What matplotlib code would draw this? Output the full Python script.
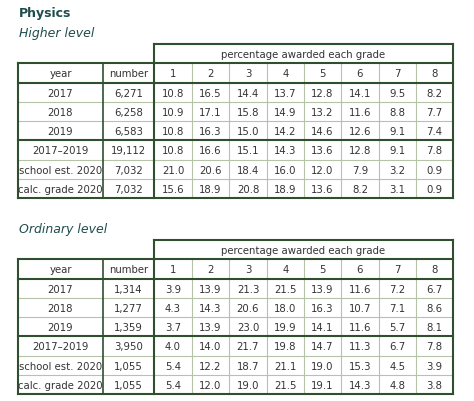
import matplotlib.pyplot as plt

row_labels = ["2017", "2018", "2019", "2017\u20132019", "school est. 2020", "calc. grade 2020"]
grades = ["1", "2", "3", "4", "5", "6", "7", "8"]

higher_numbers = ["6,271", "6,258", "6,583", "19,112", "7,032", "7,032"]
higher_pct = [
    [10.8, 16.5, 14.4, 13.7, 12.8, 14.1, 9.5, 8.2],
    [10.9, 17.1, 15.8, 14.9, 13.2, 11.6, 8.8, 7.7],
    [10.8, 16.3, 15.0, 14.2, 14.6, 12.6, 9.1, 7.4],
    [10.8, 16.6, 15.1, 14.3, 13.6, 12.8, 9.1, 7.8],
    [21.0, 20.6, 18.4, 16.0, 12.0, 7.9, 3.2, 0.9],
    [15.6, 18.9, 20.8, 18.9, 13.6, 8.2, 3.1, 0.9],
]

ordinary_numbers = ["1,314", "1,277", "1,359", "3,950", "1,055", "1,055"]
ordinary_pct = [
    [3.9, 13.9, 21.3, 21.5, 13.9, 11.6, 7.2, 6.7],
    [4.3, 14.3, 20.6, 18.0, 16.3, 10.7, 7.1, 8.6],
    [3.7, 13.9, 23.0, 19.9, 14.1, 11.6, 5.7, 8.1],
    [4.0, 14.0, 21.7, 19.8, 14.7, 11.3, 6.7, 7.8],
    [5.4, 12.2, 18.7, 21.1, 19.0, 15.3, 4.5, 3.9],
    [5.4, 12.0, 19.0, 21.5, 19.1, 14.3, 4.8, 3.8],
]

DARK = "#2f4f2f"
THIN = "#b5c4a8"
TEXT = "#333333"
TITLE = "#1f4d4d"

col_x = [18, 103, 154, 192, 229, 267, 304, 341, 379, 416, 453]

fig = plt.figure(figsize=(4.74, 4.02), dpi=100)
ax = fig.add_axes([0, 0, 1, 1])
ax.set_xlim(0, 474)
ax.set_ylim(402, 0)
ax.axis("off")


def draw_table(top, rh, numbers, pct):
    ys = [top + rh * i for i in range(9)]
    x0, x1 = col_x[0], col_x[-1]
    # thin inner lines
    for x in col_x[3:-1]:
        ax.plot([x, x], [ys[1], ys[8]], color=THIN, lw=0.8)
    for i in (3, 4, 6, 7):
        ax.plot([x0, x1], [ys[i], ys[i]], color=THIN, lw=0.8)
    # thick lines
    ax.plot([col_x[2], x1], [ys[0], ys[0]], color=DARK, lw=1.5)
    for i in (1, 2, 5, 8):
        ax.plot([x0, x1], [ys[i], ys[i]], color=DARK, lw=1.5)
    ax.plot([x0, x0], [ys[1], ys[8]], color=DARK, lw=1.5)
    ax.plot([col_x[1], col_x[1]], [ys[1], ys[8]], color=DARK, lw=1.2)
    ax.plot([col_x[2], col_x[2]], [ys[0], ys[8]], color=DARK, lw=1.5)
    ax.plot([x1, x1], [ys[0], ys[8]], color=DARK, lw=1.5)

    def cell(c, r, s):
        ax.text((col_x[c] + col_x[c + 1]) / 2, (ys[r] + ys[r + 1]) / 2 + 0.5, s,
                ha="center", va="center", fontsize=7.3, color=TEXT)

    ax.text((col_x[2] + x1) / 2, (ys[0] + ys[1]) / 2, "percentage awarded each grade",
            ha="center", va="center", fontsize=7.3, color=TEXT)
    cell(0, 1, "year")
    cell(1, 1, "number")
    for j, g in enumerate(grades):
        cell(2 + j, 1, g)
    for i, lab in enumerate(row_labels):
        cell(0, 2 + i, lab)
        cell(1, 2 + i, numbers[i])
        for j, v in enumerate(pct[i]):
            cell(2 + j, 2 + i, f"{v:.1f}")


ax.text(19, 14, "Physics", fontsize=9, fontweight="bold", color=TITLE, va="center")
ax.text(19, 34, "Higher level", fontsize=9, style="italic", color=TITLE, va="center")
draw_table(45, 19.25, higher_numbers, higher_pct)

ax.text(19, 230, "Ordinary level", fontsize=9, style="italic", color=TITLE, va="center")
draw_table(241, 19.25, ordinary_numbers, ordinary_pct)

fig.savefig("out.png", dpi=100, facecolor="white")
